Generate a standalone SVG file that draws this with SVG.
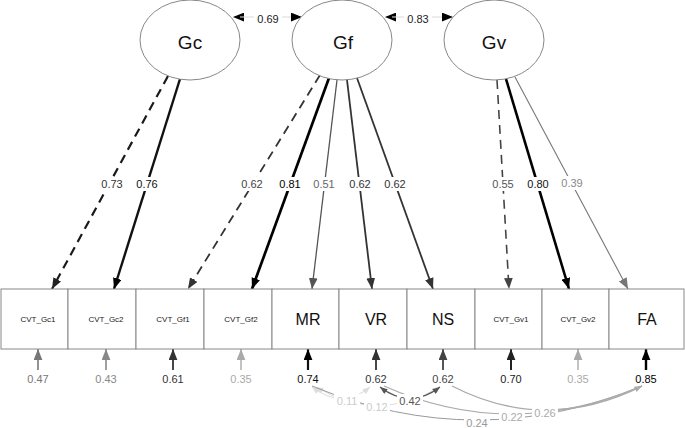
<svg xmlns="http://www.w3.org/2000/svg" width="685" height="428" viewBox="0 0 685 428">
<style>
text{font-family:"Liberation Sans",Arial,sans-serif;text-anchor:middle;dominant-baseline:central}
.lat{fill:#fff;stroke:#888;stroke-width:1}
.box{fill:#fff;stroke:#888;stroke-width:1}
.big{font-size:19px;fill:#111}
.mid{font-size:16px;fill:#111}
.sm{font-size:8px;fill:#222}
.lab{font-size:11px}
.bg{fill:#fff}
.e{fill:none}
</style>
<defs>
<marker id="k0" viewBox="0 0 10 8" refX="10" refY="4" markerWidth="11" markerHeight="9" markerUnits="userSpaceOnUse" orient="auto"><path d="M0,0L10,4L0,8z" fill="#000"/></marker>
<marker id="k1" viewBox="0 0 10 8" refX="10" refY="4" markerWidth="11" markerHeight="9" markerUnits="userSpaceOnUse" orient="auto"><path d="M0,0L10,4L0,8z" fill="#222"/></marker>
<marker id="k3" viewBox="0 0 10 8" refX="10" refY="4" markerWidth="11" markerHeight="9" markerUnits="userSpaceOnUse" orient="auto"><path d="M0,0L10,4L0,8z" fill="#333"/></marker>
<marker id="k4" viewBox="0 0 10 8" refX="10" refY="4" markerWidth="11" markerHeight="9" markerUnits="userSpaceOnUse" orient="auto"><path d="M0,0L10,4L0,8z" fill="#444"/></marker>
<marker id="k5" viewBox="0 0 10 8" refX="10" refY="4" markerWidth="11" markerHeight="9" markerUnits="userSpaceOnUse" orient="auto"><path d="M0,0L10,4L0,8z" fill="#555"/></marker>
<marker id="k7" viewBox="0 0 10 8" refX="10" refY="4" markerWidth="11" markerHeight="9" markerUnits="userSpaceOnUse" orient="auto"><path d="M0,0L10,4L0,8z" fill="#777"/></marker>
<marker id="k8" viewBox="0 0 10 8" refX="10" refY="4" markerWidth="11" markerHeight="9" markerUnits="userSpaceOnUse" orient="auto"><path d="M0,0L10,4L0,8z" fill="#888"/></marker>
<marker id="ka" viewBox="0 0 10 8" refX="10" refY="4" markerWidth="11" markerHeight="9" markerUnits="userSpaceOnUse" orient="auto"><path d="M0,0L10,4L0,8z" fill="#aaa"/></marker>
<marker id="s5" viewBox="0 0 10 8" refX="10" refY="4" markerWidth="8" markerHeight="6" markerUnits="userSpaceOnUse" orient="auto-start-reverse"><path d="M0,0L10,4L0,8z" fill="#555"/></marker>
<marker id="sd" viewBox="0 0 10 8" refX="10" refY="4" markerWidth="8" markerHeight="6" markerUnits="userSpaceOnUse" orient="auto-start-reverse"><path d="M0,0L10,4L0,8z" fill="#ddd"/></marker>
<marker id="sa" viewBox="0 0 10 8" refX="10" refY="4" markerWidth="8" markerHeight="6" markerUnits="userSpaceOnUse" orient="auto-start-reverse"><path d="M0,0L10,4L0,8z" fill="#aaa"/></marker>
</defs>

<g id="connectors">
  <!-- loadings -->
  <line x1="168" y1="76" x2="52" y2="289" stroke="#1a1a1a" stroke-width="2.2" stroke-dasharray="9,6" marker-end="url(#k1)"/>
  <line x1="180" y1="79" x2="114" y2="289" stroke="#111" stroke-width="2.4" marker-end="url(#k0)"/>
  <line x1="320" y1="75" x2="188" y2="289" stroke="#333" stroke-width="1.8" stroke-dasharray="9,6" marker-end="url(#k3)"/>
  <line x1="329" y1="78" x2="252" y2="289" stroke="#000" stroke-width="2.7" marker-end="url(#k0)"/>
  <line x1="337" y1="80" x2="312" y2="289" stroke="#555" stroke-width="1.3" marker-end="url(#k5)"/>
  <line x1="347" y1="80" x2="372" y2="289" stroke="#333" stroke-width="1.8" marker-end="url(#k3)"/>
  <line x1="357" y1="78" x2="433" y2="289" stroke="#333" stroke-width="1.8" marker-end="url(#k3)"/>
  <line x1="497" y1="80" x2="509" y2="289" stroke="#444" stroke-width="1.6" stroke-dasharray="9,6" marker-end="url(#k4)"/>
  <line x1="506" y1="79" x2="569" y2="289" stroke="#000" stroke-width="2.6" marker-end="url(#k0)"/>
  <line x1="515" y1="77" x2="628" y2="289" stroke="#777" stroke-width="1.1" marker-end="url(#k7)"/>

  <!-- latent covariances -->
  <line x1="297" y1="17" x2="233" y2="17" stroke="#e6e6e6" stroke-width="1" marker-end="url(#k0)"/>
  <line x1="240" y1="17" x2="302" y2="17" stroke="#e6e6e6" stroke-width="1" marker-end="url(#k0)"/>
  <line x1="448" y1="17" x2="385" y2="17" stroke="#e6e6e6" stroke-width="1" marker-end="url(#k0)"/>
  <line x1="392" y1="17" x2="453" y2="17" stroke="#e6e6e6" stroke-width="1" marker-end="url(#k0)"/>

  <!-- residual arrows -->
  <line x1="38" y1="370" x2="38" y2="349" stroke="#777" stroke-width="1.6" marker-end="url(#k7)"/>
  <line x1="106" y1="370" x2="106" y2="349" stroke="#888" stroke-width="1.6" marker-end="url(#k8)"/>
  <line x1="173" y1="370" x2="173" y2="349" stroke="#333" stroke-width="1.8" marker-end="url(#k3)"/>
  <line x1="241" y1="370" x2="241" y2="349" stroke="#aaa" stroke-width="1.4" marker-end="url(#ka)"/>
  <line x1="308" y1="370" x2="308" y2="349" stroke="#111" stroke-width="2.2" marker-end="url(#k0)"/>
  <line x1="376" y1="370" x2="376" y2="349" stroke="#333" stroke-width="1.8" marker-end="url(#k3)"/>
  <line x1="443" y1="370" x2="443" y2="349" stroke="#444" stroke-width="1.8" marker-end="url(#k4)"/>
  <line x1="511" y1="370" x2="511" y2="349" stroke="#222" stroke-width="2" marker-end="url(#k1)"/>
  <line x1="578" y1="370" x2="578" y2="349" stroke="#aaa" stroke-width="1.4" marker-end="url(#ka)"/>
  <line x1="646" y1="370" x2="646" y2="349" stroke="#000" stroke-width="2.4" marker-end="url(#k0)"/>

  <!-- residual covariances -->
  <path class="e" d="M312,387 Q342,410 370,387" stroke="#ddd" stroke-width="1" marker-start="url(#sd)" marker-end="url(#sd)"/>
  <path class="e" d="M316,387 Q377,424 440,387" stroke="#ddd" stroke-width="1" marker-start="url(#sd)" marker-end="url(#sd)"/>
  <path class="e" d="M380,387 Q410,410 440,387" stroke="#555" stroke-width="1.2" marker-start="url(#s5)" marker-end="url(#s5)"/>
  <path class="e" d="M312,386 Q477,454 642,386" stroke="#999" stroke-width="1" />
  <path class="e" d="M384,386 Q510,442 642,386" stroke="#aaa" stroke-width="1.2" />
  <path class="e" d="M452,386 Q545,434 642,386" stroke="#aaa" stroke-width="1.4" marker-end="url(#sa)"/>
</g>

<g id="Gc"><ellipse class="lat" cx="190" cy="40" rx="50" ry="40"/><text class="big" x="190" y="42">Gc</text></g>
<g id="Gf"><ellipse class="lat" cx="342" cy="40" rx="50" ry="40"/><text class="big" x="343" y="42">Gf</text></g>
<g id="Gv"><ellipse class="lat" cx="494" cy="40" rx="50" ry="40"/><text class="big" x="494" y="42">Gv</text></g>

<g id="CVT_Gc1"><rect class="box" x="1" y="289" width="67" height="60"/><text class="sm" x="38" y="319">CVT_Gc1</text></g>
<g id="CVT_Gc2"><rect class="box" x="68" y="289" width="68" height="60"/><text class="sm" x="106" y="319">CVT_Gc2</text></g>
<g id="CVT_Gf1"><rect class="box" x="136" y="289" width="68" height="60"/><text class="sm" x="173" y="319">CVT_Gf1</text></g>
<g id="CVT_Gf2"><rect class="box" x="204" y="289" width="68" height="60"/><text class="sm" x="241" y="319">CVT_Gf2</text></g>
<g id="MR"><rect class="box" x="272" y="289" width="67" height="60"/><text class="mid" x="308" y="319">MR</text></g>
<g id="VR"><rect class="box" x="339" y="289" width="68" height="60"/><text class="mid" x="376" y="319">VR</text></g>
<g id="NS"><rect class="box" x="407" y="289" width="68" height="60"/><text class="mid" x="443" y="319">NS</text></g>
<g id="CVT_Gv1"><rect class="box" x="475" y="289" width="67" height="60"/><text class="sm" x="511" y="319">CVT_Gv1</text></g>
<g id="CVT_Gv2"><rect class="box" x="542" y="289" width="67" height="60"/><text class="sm" x="578" y="319">CVT_Gv2</text></g>
<g id="FA"><rect class="box" x="609" y="289" width="75" height="60"/><text class="mid" x="647" y="319">FA</text></g>

<g id="labels">
  <rect class="bg" x="99" y="177" width="26" height="14"/><text class="lab" x="112" y="184" fill="#333">0.73</text>
  <rect class="bg" x="134" y="177" width="26" height="14"/><text class="lab" x="147" y="184" fill="#111">0.76</text>
  <rect class="bg" x="239" y="177" width="26" height="14"/><text class="lab" x="252" y="184" fill="#444">0.62</text>
  <rect class="bg" x="277" y="177" width="26" height="14"/><text class="lab" x="290" y="184" fill="#000">0.81</text>
  <rect class="bg" x="311" y="177" width="26" height="14"/><text class="lab" x="324" y="184" fill="#666">0.51</text>
  <rect class="bg" x="347" y="177" width="26" height="14"/><text class="lab" x="360" y="184" fill="#333">0.62</text>
  <rect class="bg" x="382" y="177" width="26" height="14"/><text class="lab" x="395" y="184" fill="#333">0.62</text>
  <rect class="bg" x="490" y="177" width="26" height="14"/><text class="lab" x="503" y="184" fill="#555">0.55</text>
  <rect class="bg" x="525" y="177" width="26" height="14"/><text class="lab" x="538" y="184" fill="#111">0.80</text>
  <rect class="bg" x="559" y="176" width="26" height="14"/><text class="lab" x="572" y="183" fill="#888">0.39</text>

  <rect class="bg" x="254" y="11" width="28" height="15"/><text class="lab" x="268" y="19" fill="#222">0.69</text>
  <rect class="bg" x="404" y="11" width="28" height="15"/><text class="lab" x="418" y="19" fill="#222">0.83</text>

  <text class="lab" x="38" y="379" fill="#777">0.47</text>
  <text class="lab" x="106" y="379" fill="#888">0.43</text>
  <text class="lab" x="173" y="379" fill="#333">0.61</text>
  <text class="lab" x="241" y="379" fill="#aaa">0.35</text>
  <rect class="bg" x="294" y="372" width="28" height="13"/><text class="lab" x="308" y="379" fill="#111">0.74</text>
  <rect class="bg" x="362" y="372" width="28" height="13"/><text class="lab" x="376" y="379" fill="#333">0.62</text>
  <rect class="bg" x="429" y="372" width="28" height="13"/><text class="lab" x="443" y="379" fill="#444">0.62</text>
  <text class="lab" x="511" y="379" fill="#222">0.70</text>
  <text class="lab" x="578" y="379" fill="#aaa">0.35</text>
  <rect class="bg" x="632" y="372" width="28" height="13"/><text class="lab" x="646" y="379" fill="#000">0.85</text>

  <rect class="bg" x="334" y="394" width="26" height="14"/><text class="lab" x="347" y="401" fill="#ccc">0.11</text>
  <rect class="bg" x="364" y="400" width="26" height="14"/><text class="lab" x="377" y="407" fill="#ccc">0.12</text>
  <rect class="bg" x="397" y="394" width="26" height="14"/><text class="lab" x="410" y="401" fill="#555">0.42</text>
  <rect class="bg" x="464" y="416" width="26" height="14"/><text class="lab" x="477" y="423" fill="#999">0.24</text>
  <rect class="bg" x="499" y="410" width="26" height="14"/><text class="lab" x="512" y="417" fill="#aaa">0.22</text>
  <rect class="bg" x="532" y="406" width="26" height="14"/><text class="lab" x="545" y="413" fill="#aaa">0.26</text>
</g>
</svg>
